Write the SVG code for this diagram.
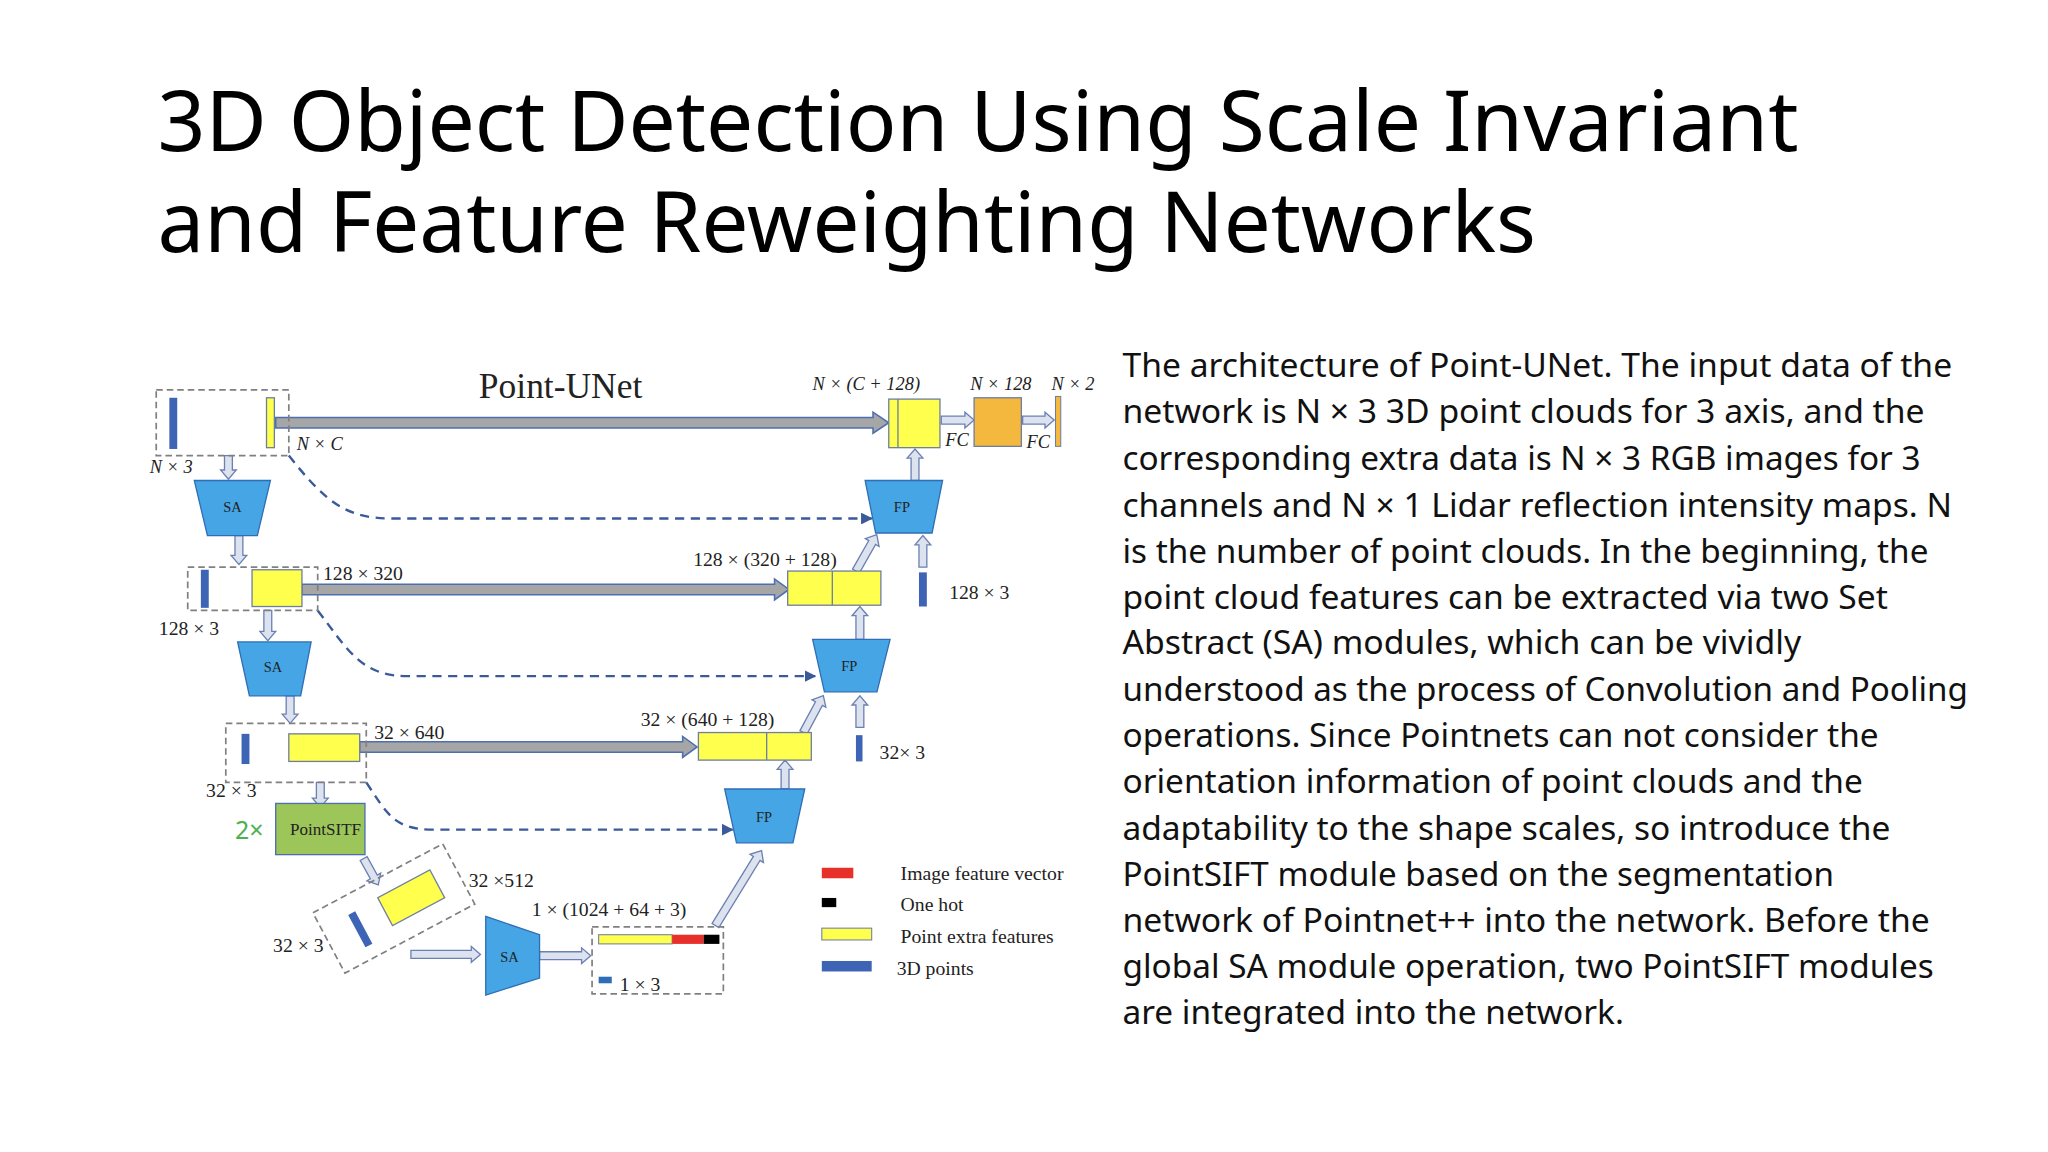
<svg xmlns="http://www.w3.org/2000/svg" width="2048" height="1152" viewBox="0 0 2048 1152">
<defs>
<style>
.ttl{font-family:"Noto Sans","Open Sans",sans-serif;font-size:64px;fill:#000}
.par{font-family:"Noto Sans","Open Sans",sans-serif;font-size:25px;fill:#111}
.sf{font-family:"Liberation Serif",serif;fill:#222}
.it{font-style:italic}
.tr{fill:#45A5E5;stroke:#2F6EB5;stroke-width:1}
.yl{fill:#FFFF4D;stroke:#6F7F9F;stroke-width:1}
.bb{fill:#3E64B5}
.db{fill:none;stroke:#808080;stroke-width:1.3;stroke-dasharray:5 3}
.ga{fill:#A6A6A6;stroke:#4D6FB0;stroke-width:1.2}
.ha{fill:#DDE3EE;stroke:#6B80B3;stroke-width:1}
.dc{fill:none;stroke:#3A5A9A;stroke-width:1.8;stroke-dasharray:7 5}
</style>
<marker id="ah" viewBox="0 0 10 10" refX="9" refY="5" markerWidth="5" markerHeight="5" orient="auto"><path d="M0,0 L10,5 L0,10 z" fill="#3A5A9A"/></marker>
</defs>
<rect width="2048" height="1152" fill="#fff"/>
<g transform="scale(1.3128)">
<g id="title">
<text class="ttl" x="120" y="115" textLength="1250" lengthAdjust="spacingAndGlyphs">3D Object Detection Using Scale Invariant</text>
<text class="ttl" x="120" y="192" textLength="1050" lengthAdjust="spacingAndGlyphs">and Feature Reweighting Networks</text>
</g>
<g id="paragraph" class="par">
<text x="855" y="287" textLength="632" lengthAdjust="spacingAndGlyphs">The architecture of Point-UNet. The input data of the</text>
<text x="855" y="322" textLength="611" lengthAdjust="spacingAndGlyphs">network is N × 3 3D point clouds for 3 axis, and the</text>
<text x="855" y="358" textLength="608" lengthAdjust="spacingAndGlyphs">corresponding extra data is N × 3 RGB images for 3</text>
<text x="855" y="394" textLength="632" lengthAdjust="spacingAndGlyphs">channels and N × 1 Lidar reflection intensity maps. N</text>
<text x="855" y="429" textLength="614" lengthAdjust="spacingAndGlyphs">is the number of point clouds. In the beginning, the</text>
<text x="855" y="464" textLength="583" lengthAdjust="spacingAndGlyphs">point cloud features can be extracted via two Set</text>
<text x="855" y="498" textLength="517" lengthAdjust="spacingAndGlyphs">Abstract (SA) modules, which can be vividly</text>
<text x="855" y="534" textLength="644" lengthAdjust="spacingAndGlyphs">understood as the process of Convolution and Pooling</text>
<text x="855" y="569" textLength="576" lengthAdjust="spacingAndGlyphs">operations. Since Pointnets can not consider the</text>
<text x="855" y="604" textLength="564" lengthAdjust="spacingAndGlyphs">orientation information of point clouds and the</text>
<text x="855" y="640" textLength="585" lengthAdjust="spacingAndGlyphs">adaptability to the shape scales, so introduce the</text>
<text x="855" y="675" textLength="542" lengthAdjust="spacingAndGlyphs">PointSIFT module based on the segmentation</text>
<text x="855" y="710" textLength="615" lengthAdjust="spacingAndGlyphs">network of Pointnet++ into the network. Before the</text>
<text x="855" y="745" textLength="618" lengthAdjust="spacingAndGlyphs">global SA module operation, two PointSIFT modules</text>
<text x="855" y="780" textLength="382" lengthAdjust="spacingAndGlyphs">are integrated into the network.</text>
</g>
<text class="sf" x="427" y="303" font-size="27" text-anchor="middle">Point-UNet</text>

<g id="connectors">
<path class="ga" d="M210,318 L665,318 L665,314 L677,322 L665,330 L665,326 L210,326 z"/>
<path class="ga" d="M230,445 L590,445 L590,441 L601,449 L590,457 L590,453 L230,453 z"/>
<path class="ga" d="M274,565 L520,565 L520,561 L531,569 L520,577 L520,573 L274,573 z"/>
<path class="dc" d="M220,347 C250,385 265,395 300,395 L664,395" marker-end="url(#ah)"/>
<path class="dc" d="M242,465 C265,495 275,515 310,515 L621,515" marker-end="url(#ah)"/>
<path class="dc" d="M279,596 C295,620 300,632 330,632 L558,632" marker-end="url(#ah)"/>
<g class="ha">
<path transform="translate(174,347) rotate(90)" d="M0,-3 L11,-3 L11,-6 L18,0 L11,6 L11,3 L0,3 z"/>
<path transform="translate(182,408) rotate(90)" d="M0,-3 L15,-3 L15,-6 L22,0 L15,6 L15,3 L0,3 z"/>
<path transform="translate(204,465) rotate(90)" d="M0,-3 L16,-3 L16,-6 L23,0 L16,6 L16,3 L0,3 z"/>
<path transform="translate(221,530) rotate(90)" d="M0,-3 L14,-3 L14,-6 L21,0 L14,6 L14,3 L0,3 z"/>
<path transform="translate(244,596) rotate(90)" d="M0,-3 L12,-3 L12,-6 L19,0 L12,6 L12,3 L0,3 z"/>
<path transform="translate(277,654) rotate(61)" d="M0,-3 L16,-3 L16,-6 L23,0 L16,6 L16,3 L0,3 z"/>
<path transform="translate(313,727)" d="M0,-3 L46,-3 L46,-6 L53,0 L46,6 L46,3 L0,3 z"/>
<path transform="translate(411,728)" d="M0,-3 L32,-3 L32,-6 L39,0 L32,6 L32,3 L0,3 z"/>
<path transform="translate(545,705) rotate(-58.4)" d="M0,-3 L60,-3 L60,-6 L67,0 L60,6 L60,3 L0,3 z"/>
<path transform="translate(598,601) rotate(-90)" d="M0,-3 L15,-3 L15,-6 L22,0 L15,6 L15,3 L0,3 z"/>
<path transform="translate(612,558) rotate(-61.8)" d="M0,-3 L25,-3 L25,-6 L32,0 L25,6 L25,3 L0,3 z"/>
<path transform="translate(655,554) rotate(-90)" d="M0,-3 L17,-3 L17,-6 L24,0 L17,6 L17,3 L0,3 z"/>
<path transform="translate(655,487) rotate(-90)" d="M0,-3 L18,-3 L18,-6 L25,0 L18,6 L18,3 L0,3 z"/>
<path transform="translate(652,435) rotate(-60.3)" d="M0,-3 L25,-3 L25,-6 L32,0 L25,6 L25,3 L0,3 z"/>
<path transform="translate(703,432) rotate(-90)" d="M0,-3 L17,-3 L17,-6 L24,0 L17,6 L17,3 L0,3 z"/>
<path transform="translate(697,366) rotate(-90)" d="M0,-3 L17,-3 L17,-6 L24,0 L17,6 L17,3 L0,3 z"/>
<path transform="translate(717,320)" d="M0,-3 L18,-3 L18,-6 L25,0 L18,6 L18,3 L0,3 z"/>
<path transform="translate(779,320)" d="M0,-3 L17,-3 L17,-6 L24,0 L17,6 L17,3 L0,3 z"/>
</g>
</g>

<g id="input1">
<rect class="db" x="119" y="297" width="101" height="50"/>
<rect class="bb" x="129" y="303" width="6" height="39"/>
<rect class="yl" x="203" y="303" width="6" height="38"/>
<text class="sf it" x="226" y="343" font-size="14">N × C</text>
<text class="sf it" x="114" y="360" font-size="14">N × 3</text>
</g>
<g id="sa1"><path class="tr" d="M148,366 L206,366 L196,408 L158,408 z"/><text class="sf" x="177" y="390" font-size="11" text-anchor="middle">SA</text></g>
<g id="level2">
<rect class="db" x="143" y="432" width="99" height="33"/>
<rect class="bb" x="153" y="434" width="6" height="29"/>
<rect class="yl" x="192" y="434" width="38" height="28"/>
<text class="sf" x="246" y="442" font-size="15">128 × 320</text>
<text class="sf" x="121" y="484" font-size="15">128 × 3</text>
</g>
<g id="sa2"><path class="tr" d="M181,489 L237,489 L229,530 L190,530 z"/><text class="sf" x="208" y="512" font-size="11" text-anchor="middle">SA</text></g>
<g id="level3">
<rect class="db" x="172" y="551" width="107" height="45"/>
<rect class="bb" x="184" y="559" width="6" height="23"/>
<rect class="yl" x="220" y="559" width="54" height="21"/>
<text class="sf" x="285" y="563" font-size="15">32 × 640</text>
<text class="sf" x="157" y="607" font-size="15">32 × 3</text>
</g>
<g id="pointsitf">
<rect x="210" y="612" width="68" height="39" fill="#9DC65A" stroke="#4D6FB0" stroke-width="1"/>
<text class="sf" x="248" y="636" font-size="13" text-anchor="middle">PointSITF</text>
<text x="179" y="639" font-family="Noto Sans,sans-serif" font-size="19" fill="#4CB050">2×</text>
</g>
<g id="rotbox">
<g transform="translate(300,692) rotate(-28)">
<rect class="db" x="-56" y="-26" width="112" height="52"/>
<rect class="bb" x="-33" y="-12" width="6" height="28"/>
<rect class="yl" x="-7" y="-13" width="45" height="24"/>
</g>
<text class="sf" x="357" y="676" font-size="15">32 ×512</text>
<text class="sf" x="208" y="725" font-size="15">32 × 3</text>
</g>
<g id="sa3"><path class="tr" d="M370,698 L411,712 L411,745 L370,758 z"/><text class="sf" x="388" y="733" font-size="11" text-anchor="middle">SA</text></g>
<g id="global">
<rect class="db" x="451" y="706" width="100" height="51"/>
<rect x="456" y="712" width="56" height="7" fill="#FFFF4D" stroke="#6F7F9F" stroke-width="0.8"/>
<rect x="512" y="712" width="24" height="7" fill="#E8302A"/>
<rect x="536" y="712" width="12" height="7" fill="#000"/>
<rect x="456" y="744" width="10" height="5" fill="#2F6EB5"/>
<text class="sf" x="472" y="755" font-size="15">1 × 3</text>
<text class="sf" x="405" y="698" font-size="15">1 × (1024 + 64 + 3)</text>
</g>
<g id="fp3"><path class="tr" d="M552,601 L613,601 L604,642 L561,642 z"/><text class="sf" x="582" y="626" font-size="11" text-anchor="middle">FP</text></g>
<g id="cat3">
<rect class="yl" x="532" y="558" width="86" height="21"/>
<line x1="584" y1="558" x2="584" y2="579" stroke="#6F7F9F"/>
<text class="sf" x="488" y="553" font-size="15">32 × (640 + 128)</text>
</g>
<g id="fp2"><path class="tr" d="M619,487 L678,487 L668,527 L628,527 z"/><text class="sf" x="647" y="511" font-size="11" text-anchor="middle">FP</text></g>
<g id="pts32"><rect class="bb" x="652" y="560" width="5" height="20"/><text class="sf" x="670" y="578" font-size="15">32× 3</text></g>
<g id="cat2">
<rect class="yl" x="600" y="435" width="71" height="26"/>
<line x1="634" y1="435" x2="634" y2="461" stroke="#6F7F9F"/>
<text class="sf" x="528" y="431" font-size="15">128 × (320 + 128)</text>
</g>
<g id="fp1"><path class="tr" d="M659,366 L718,366 L710,406 L667,406 z"/><text class="sf" x="687" y="390" font-size="11" text-anchor="middle">FP</text></g>
<g id="pts128"><rect class="bb" x="700" y="436" width="6" height="26"/><text class="sf" x="723" y="456" font-size="15">128 × 3</text></g>
<g id="cat1">
<rect class="yl" x="677" y="304" width="39" height="37"/>
<line x1="684" y1="304" x2="684" y2="341" stroke="#6F7F9F"/>
<text class="sf it" x="619" y="297" font-size="14">N × (C + 128)</text>
<text class="sf it" x="720" y="340" font-size="14">FC</text>
</g>
<g id="fc1">
<rect x="742" y="303" width="36" height="37" fill="#F4B83E" stroke="#6F7F9F" stroke-width="1"/>
<text class="sf it" x="739" y="297" font-size="14">N × 128</text>
<text class="sf it" x="782" y="341" font-size="14">FC</text>
</g>
<g id="out">
<rect x="804" y="302" width="4" height="38" fill="#F4B83E" stroke="#6F7F9F" stroke-width="0.8"/>
<text class="sf it" x="801" y="297" font-size="14">N × 2</text>
</g>
<g id="legend" class="sf">
<rect x="626" y="661" width="24" height="8" fill="#E8302A"/>
<rect x="626" y="684" width="11" height="7" fill="#000"/>
<rect x="626" y="707" width="38" height="9" fill="#FFFF4D" stroke="#6F7F9F" stroke-width="0.8"/>
<rect x="626" y="732" width="38" height="8" fill="#3E64B5"/>
<text x="686" y="670" font-size="15">Image feature vector</text>
<text x="686" y="694" font-size="15">One hot</text>
<text x="686" y="718" font-size="15">Point extra features</text>
<text x="683" y="743" font-size="15">3D points</text>
</g>
</g>
</svg>
